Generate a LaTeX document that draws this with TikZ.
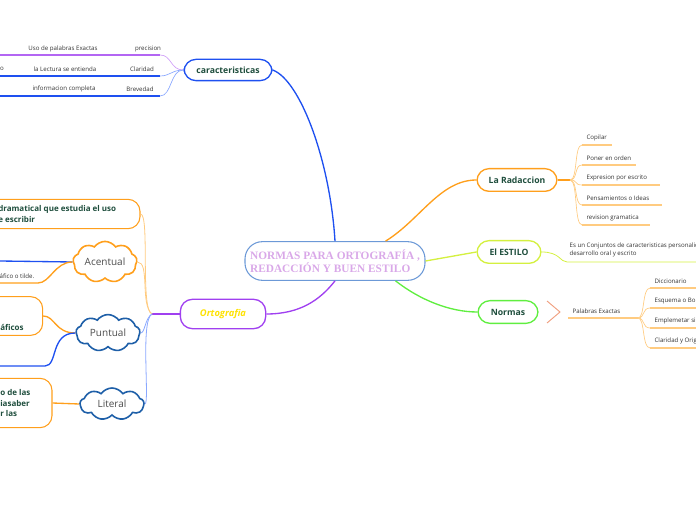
\documentclass[tikz,border=0pt]{standalone}
\usepackage{fontspec}
\setmainfont{Open Sans}
\newfontfamily\titlefont{Liberation Serif}
\usetikzlibrary{shapes.symbols}
\definecolor{dg}{HTML}{1F4E3D}
\definecolor{org}{HTML}{FF9F1C}
\definecolor{orgl}{HTML}{FFCB80}
\definecolor{blu}{HTML}{1E50F0}
\definecolor{blul}{HTML}{8AA8FF}
\definecolor{pur}{HTML}{A040F0}
\definecolor{cloudb}{HTML}{1E5FA8}
\definecolor{yg}{HTML}{D4F040}
\definecolor{grn}{HTML}{60EE40}
\definecolor{lav}{HTML}{D9A8E8}
\definecolor{sal}{HTML}{F0A080}
\tikzset{
 topic/.style={draw,rounded corners=9pt,line width=1pt,minimum height=22pt,font=\bfseries\fontsize{6.5}{8}\selectfont,text=dg,inner sep=2pt},
 small/.style={font=\fontsize{4.6}{6}\selectfont,text=black!80,inner sep=1pt},
 cl/.style={cloud,cloud puffs=9,cloud puff arc=110,aspect=1.9,draw,line width=1.2pt,font=\fontsize{7.5}{9}\selectfont,text=black!70,inner sep=1pt,minimum width=48pt,minimum height=24pt},
 ul/.style={line width=1pt}
}
\begin{document}
\begin{tikzpicture}[x=0.75pt,y=-0.75pt]
\useasboundingbox (0,0) rectangle (696,520);
% central
\node[draw=cyan!50!blue!60,rounded corners=13pt,line width=0.8pt,minimum width=135pt,minimum height=29pt,align=left,text=lav,font=\titlefont\bfseries\fontsize{8.5}{9.5}\selectfont,inner sep=2pt] (c) at (335,261) {NORMAS PARA ORTOGRAFÍA ,\\REDACCIÓN Y BUEN ESTILO};
% caracteristicas
\node[topic,draw=blu,minimum width=66pt,minimum height=16pt] (car) at (228,70) {caracteristicas};
\draw[blu,line width=1pt] (car.east) .. controls (300,80) and (330,160) .. (c.north);
\node[small] (p1) at (148,49) {precision};
\node[small] (u1) at (63,49) {Uso de palabras Exactas};
\node[small] (p2) at (142,69) {Claridad};
\node[small] (u2) at (65,69) {la Lectura se entienda};
\node[small] (u2b) at (2,69) {o};
\node[small] (p3) at (140,89) {Brevedad};
\node[small] (u3) at (64,89) {informacion completa};
\draw[pur!80,ul] (0,55) -- (160,55);
\draw[pur!50,line width=0.5pt] (160,55) .. controls (172,55) and (170,70) .. (car.west);
\draw[blu,ul] (0,76) -- (160,76);
\draw[blul,line width=0.5pt] (160,76) .. controls (170,76) and (172,70) .. (car.west);
\draw[blu,ul] (0,96) -- (160,96);
\draw[blul,line width=0.5pt] (160,96) .. controls (172,96) and (170,70) .. (car.west);
% Ortografia
\node[topic,draw=pur,minimum width=64pt,text=yellow!85!orange,font=\itshape\bfseries\fontsize{7}{8}\selectfont] (o) at (223,314) {Ortografia};
\draw[pur,line width=1pt] (o.east) .. controls (300,314) and (320,300) .. (c.south);
\coordinate (oj) at (152,314);
\draw[pur,line width=0.8pt] (o.west) -- (oj);
\node[cl,draw=org] (ac) at (105,262) {Acentual};
\node[cl,draw=cloudb] (pu) at (108,333) {Puntual};
\node[cl,draw=cloudb] (li) at (112,404) {Literal};
\node[draw=org,rounded corners=9pt,line width=0.8pt,minimum width=120pt,minimum height=22pt] (b1) at (60,214) {};
\draw[orgl,line width=0.6pt] (oj) .. controls (140,310) and (150,214) .. (b1.east);
\draw[orgl,line width=0.6pt] (oj) .. controls (140,305) and (150,262) .. (ac.east);
\draw[blul,line width=0.6pt] (oj) .. controls (145,318) and (145,333) .. (pu.east);
\draw[blul,line width=0.6pt] (oj) .. controls (140,320) and (150,404) .. (li.east);
\node[anchor=west,font=\bfseries\fontsize{6}{8}\selectfont,text=dg,align=left,inner sep=0pt] (t1) at (-2,214) {dramatical que estudia el uso\\e escribir};
% acentual
\node[small,anchor=west] (at) at (-2,276) {áfico o tilde.};
\coordinate (a1) at (0,261);
\coordinate (a2) at (0,283);
\draw[blu,ul] (a1) -- (ac.west);
\draw[org,ul] (a2) -- (38,283) .. controls (50,283) and (55,262) .. (ac.west);
% puntual
\node[draw=org,rounded corners=9pt,line width=0.8pt,minimum width=64pt,minimum height=29pt] (b2) at (0,316) {};
\node[anchor=west,font=\bfseries\fontsize{6}{8}\selectfont,text=dg,inner sep=0pt] (t2) at (0,327) {áficos};
\draw[org,ul] (b2.east) .. controls (55,316) and (55,333) .. (pu.west);
\coordinate (p0) at (0,366);
\draw[blu,ul] (p0) -- (45,366) .. controls (58,366) and (50,333) .. (pu.west);
% literal
\node[draw=org,rounded corners=9pt,line width=0.8pt,minimum width=78pt,minimum height=37pt] (b3) at (0,403) {};
\node[anchor=west,font=\bfseries\fontsize{6}{7.6}\selectfont,text=dg,align=left,inner sep=0pt] (t3) at (0,403) {o de las\\iasaber\\r las};
\draw[org,ul] (b3.east) -- (li.west);
% La Radaccion
\node[topic,draw=org,minimum width=60pt,minimum height=17pt] (r) at (517,180) {La Radaccion};
\draw[org,line width=1pt] (c.north east) ++(-40,0) .. controls (420,220) and (440,180) .. (r.west);
\coordinate (rj) at (570,180);
\draw[org,line width=1pt] (r.east) -- (rj);
\foreach \t/\y/\w [count=\i] in {Copilar/138/30,Poner en orden/158/54,Expresion por escrito/178/78,Pensamientos o Ideas/198/80,revision gramatica/218/68}{
 \node[small,anchor=west] (rr\i) at (585,\y) {\t};
 \draw[orgl,ul] (582,\y+7) -- ++(\w,0);
 \draw[orgl,line width=0.5pt] (rj) .. controls (578,180) and (574,\y+7) .. (582,\y+7);
}
% El ESTILO
\node[topic,draw=yg,minimum width=48pt,minimum height=17pt] (e) at (509,252) {El ESTILO};
\draw[yg,line width=1pt] (c.east) -- (e.west);
\node[small,anchor=west,align=left] (et) at (568,250) {Es un Conjuntos de caracteristicas personalid\\desarrollo oral y escrito};
\draw[yg,line width=0.6pt] (e.east) .. controls (560,252) and (560,262) .. (567,262) -- (696,262);
% Normas
\node[topic,draw=grn,minimum width=45pt,minimum height=17pt] (n) at (508,312) {Normas};
\draw[grn,line width=1pt] (c.south east) ++(-30,0) .. controls (420,300) and (450,312) .. (n.west);
\draw[sal,line width=0.7pt] (547,301) -- (560,312) -- (547,323);
\node[small,anchor=west] (pe) at (571,311) {Palabras Exactas};
\draw[orgl,ul] (568,318) -- (638,318);
\foreach \t/\y [count=\i] in {Diccionario/281,Esquema o Bor/301,Emplemetar si/321,Claridad y Orig/341}{
 \node[small,anchor=west] (nn\i) at (653,\y) {\t};
 \draw[orgl,ul] (650,\y+7) -- (696,\y+7);
 \draw[orgl,line width=0.5pt] (638,318) .. controls (645,318) and (642,\y+7) .. (650,\y+7);
}
\end{tikzpicture}
\end{document}
